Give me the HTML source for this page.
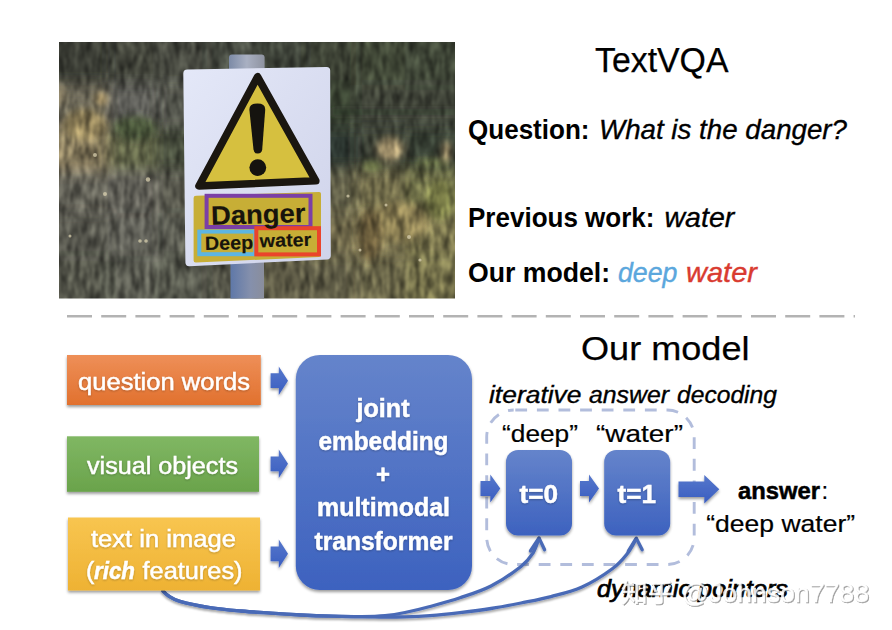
<!DOCTYPE html>
<html lang="en">
<head>
<meta charset="utf-8">
<title>TextVQA - Our model</title>
<style>
html,body{margin:0;padding:0;background:#fff;}
body{width:892px;height:630px;overflow:hidden;position:relative;}
svg{display:block;position:absolute;left:0;top:0;}
text{font-family:"Liberation Sans", sans-serif;}
.wm{font-family:"Liberation Sans", "Noto Sans CJK SC", sans-serif;}
</style>
</head>
<body>
<svg width="892" height="630" viewBox="0 0 892 630">
<defs>
<linearGradient id="gBlue" x1="0" y1="0" x2="0" y2="1"><stop offset="0" stop-color="#6584cb"/><stop offset="1" stop-color="#3d62bf"/></linearGradient>
<linearGradient id="gArrow" x1="0" y1="0" x2="0" y2="1"><stop offset="0" stop-color="#5677cb"/><stop offset="1" stop-color="#3a5ec1"/></linearGradient>
<linearGradient id="gOrange" x1="0" y1="0" x2="0" y2="1"><stop offset="0" stop-color="#ee8f58"/><stop offset="1" stop-color="#e1712e"/></linearGradient>
<linearGradient id="gGreen" x1="0" y1="0" x2="0" y2="1"><stop offset="0" stop-color="#80b763"/><stop offset="1" stop-color="#6aa34b"/></linearGradient>
<linearGradient id="gYellow" x1="0" y1="0" x2="0" y2="1"><stop offset="0" stop-color="#f8c550"/><stop offset="1" stop-color="#eeb233"/></linearGradient>
<linearGradient id="gPost" x1="0" y1="0" x2="1" y2="0"><stop offset="0" stop-color="#7c8aa6"/><stop offset="0.5" stop-color="#a9b0c2"/><stop offset="1" stop-color="#8e93a0"/></linearGradient>
<linearGradient id="gPost2" x1="0" y1="0" x2="1" y2="0"><stop offset="0" stop-color="#5f78a8"/><stop offset="0.6" stop-color="#8590ac"/><stop offset="1" stop-color="#8a8e9c"/></linearGradient>
<linearGradient id="gSign" x1="0" y1="0" x2="1" y2="1"><stop offset="0" stop-color="#e4e8f8"/><stop offset="1" stop-color="#cfd3ea"/></linearGradient>
<filter id="sh" x="-20%" y="-20%" width="140%" height="150%"><feGaussianBlur in="SourceAlpha" stdDeviation="1.6"/><feOffset dx="0" dy="2"/><feComponentTransfer><feFuncA type="linear" slope="0.4"/></feComponentTransfer><feMerge><feMergeNode/><feMergeNode in="SourceGraphic"/></feMerge></filter>
<filter id="shl" x="-5%" y="-50%" width="110%" height="200%"><feGaussianBlur in="SourceAlpha" stdDeviation="1.2"/><feOffset dx="0" dy="2"/><feComponentTransfer><feFuncA type="linear" slope="0.35"/></feComponentTransfer><feMerge><feMergeNode/><feMergeNode in="SourceGraphic"/></feMerge></filter>
<filter id="tsh" x="-5%" y="-20%" width="110%" height="150%"><feGaussianBlur in="SourceAlpha" stdDeviation="0.8"/><feOffset dx="0" dy="1"/><feComponentTransfer><feFuncA type="linear" slope="0.25"/></feComponentTransfer><feMerge><feMergeNode/><feMergeNode in="SourceGraphic"/></feMerge></filter>
<filter id="wsh" x="-5%" y="-30%" width="110%" height="170%" color-interpolation-filters="sRGB"><feMorphology in="SourceAlpha" operator="dilate" radius="0.3" result="d"/><feOffset in="d" dx="1.2" dy="1.3" result="o"/><feFlood flood-color="#3a3a3a" flood-opacity="0.55"/><feComposite in2="o" operator="in" result="s"/><feMerge><feMergeNode in="s"/><feMergeNode in="SourceGraphic"/></feMerge></filter>
<filter id="b12" x="-50%" y="-50%" width="200%" height="200%"><feGaussianBlur stdDeviation="12"/></filter>
<filter id="b6" x="-50%" y="-50%" width="200%" height="200%"><feGaussianBlur stdDeviation="6"/></filter>
<filter id="b8" filterUnits="userSpaceOnUse" x="0" y="0" width="520" height="340"><feGaussianBlur stdDeviation="7"/></filter>
<filter id="b4" filterUnits="userSpaceOnUse" x="0" y="0" width="520" height="340"><feGaussianBlur stdDeviation="3.5"/></filter>
<filter id="b1" x="-50%" y="-50%" width="200%" height="200%"><feGaussianBlur stdDeviation="0.7"/></filter>
<filter id="b2" x="-50%" y="-50%" width="200%" height="200%"><feGaussianBlur stdDeviation="1.5"/></filter>
<filter id="tex" filterUnits="userSpaceOnUse" x="39" y="22" width="436" height="297" color-interpolation-filters="sRGB"><feTurbulence type="fractalNoise" baseFrequency="0.2 0.055" numOctaves="3" seed="11" result="n"/><feColorMatrix in="n" type="matrix" values="1 0 0 0 0  1 0 0 0 0  1 0 0 0 0  0 0 0 0 1" result="g"/><feGaussianBlur in="g" stdDeviation="0.8" result="gb"/><feComposite in="SourceGraphic" in2="gb" operator="arithmetic" k1="1.4" k2="0.28" k3="0" k4="0"/></filter>
<clipPath id="cpPhoto"><rect x="59" y="42" width="396" height="256.5"/></clipPath>
</defs>

<g clip-path="url(#cpPhoto)">
<g filter="url(#tex)">
<rect x="39" y="22" width="436" height="297" fill="#50524a"/>
<g filter="url(#b8)">
<rect x="39" y="22" width="70" height="64" fill="#3b3e35"/>
<rect x="108" y="22" width="51" height="64" fill="#44463e"/>
<rect x="158" y="22" width="50" height="64" fill="#494b43"/>
<rect x="207" y="22" width="51" height="64" fill="#444840"/>
<rect x="257" y="22" width="50" height="64" fill="#3f443a"/>
<rect x="306" y="22" width="51" height="64" fill="#3c4335"/>
<rect x="356" y="22" width="50" height="64" fill="#424839"/>
<rect x="405" y="22" width="71" height="64" fill="#3f4638"/>
<rect x="39" y="85" width="70" height="44" fill="#6c6858"/>
<rect x="108" y="85" width="51" height="44" fill="#5d5d58"/>
<rect x="158" y="85" width="50" height="44" fill="#57584f"/>
<rect x="207" y="85" width="51" height="44" fill="#4a4d44"/>
<rect x="257" y="85" width="50" height="44" fill="#424839"/>
<rect x="306" y="85" width="51" height="44" fill="#3d4636"/>
<rect x="356" y="85" width="50" height="44" fill="#444a3c"/>
<rect x="405" y="85" width="71" height="44" fill="#454a3d"/>
<rect x="39" y="128" width="70" height="43" fill="#8a7e5e"/>
<rect x="108" y="128" width="51" height="43" fill="#62664a"/>
<rect x="158" y="128" width="50" height="43" fill="#464e3c"/>
<rect x="207" y="128" width="51" height="43" fill="#404638"/>
<rect x="257" y="128" width="50" height="43" fill="#343c33"/>
<rect x="306" y="128" width="51" height="43" fill="#2f3831"/>
<rect x="356" y="128" width="50" height="43" fill="#3a3f35"/>
<rect x="405" y="128" width="71" height="43" fill="#363c33"/>
<rect x="39" y="170" width="70" height="44" fill="#646258"/>
<rect x="108" y="170" width="51" height="44" fill="#63625a"/>
<rect x="158" y="170" width="50" height="44" fill="#5a5a50"/>
<rect x="207" y="170" width="51" height="44" fill="#58584a"/>
<rect x="257" y="170" width="50" height="44" fill="#5c5b46"/>
<rect x="306" y="170" width="51" height="44" fill="#62604a"/>
<rect x="356" y="170" width="50" height="44" fill="#726d4b"/>
<rect x="405" y="170" width="71" height="44" fill="#70714a"/>
<rect x="39" y="213" width="70" height="44" fill="#585950"/>
<rect x="108" y="213" width="51" height="44" fill="#616158"/>
<rect x="158" y="213" width="50" height="44" fill="#5c5d52"/>
<rect x="207" y="213" width="51" height="44" fill="#5a5a4a"/>
<rect x="257" y="213" width="50" height="44" fill="#66624a"/>
<rect x="306" y="213" width="51" height="44" fill="#6f694b"/>
<rect x="356" y="213" width="50" height="44" fill="#7b7551"/>
<rect x="405" y="213" width="71" height="44" fill="#7d784f"/>
<rect x="39" y="256" width="70" height="64" fill="#54574c"/>
<rect x="108" y="256" width="51" height="64" fill="#5b5d52"/>
<rect x="158" y="256" width="50" height="64" fill="#585a50"/>
<rect x="207" y="256" width="51" height="64" fill="#565648"/>
<rect x="257" y="256" width="50" height="64" fill="#5e5c46"/>
<rect x="306" y="256" width="51" height="64" fill="#646148"/>
<rect x="356" y="256" width="50" height="64" fill="#6d694c"/>
<rect x="405" y="256" width="71" height="64" fill="#76724c"/>
</g>
<g filter="url(#b4)">
<rect x="330" y="110.5" width="130" height="3" fill="#262d27"/>
<ellipse cx="390" cy="149" rx="14" ry="12" fill="#a3926c"/>
<ellipse cx="446.5" cy="152" rx="5" ry="11" fill="#a3916a"/>
<ellipse cx="372" cy="166" rx="10" ry="5" fill="#6f7a4a"/>
<ellipse cx="432" cy="163" rx="16" ry="4" fill="#70794b"/>
<ellipse cx="101" cy="99" rx="6" ry="7" fill="#b39c6c"/>
<ellipse cx="61" cy="95" rx="4" ry="10" fill="#a89a78"/>
<ellipse cx="85" cy="125" rx="22" ry="16" fill="#8f8059"/>
<ellipse cx="135" cy="128" rx="22" ry="12" fill="#4d5a3d"/>
<ellipse cx="400" cy="222" rx="30" ry="20" fill="#85794f"/>
<ellipse cx="440" cy="200" rx="14" ry="20" fill="#7d8048"/>
<ellipse cx="370" cy="235" rx="12" ry="26" fill="#6d5f3e"/>
</g>
</g>
<circle cx="148" cy="179.5" r="2.2" fill="#d8cfae" opacity="0.75" filter="url(#b1)"/>
<circle cx="105" cy="194" r="2" fill="#d8cfae" opacity="0.75" filter="url(#b1)"/>
<circle cx="140" cy="241" r="1.8" fill="#d8cfae" opacity="0.75" filter="url(#b1)"/>
<circle cx="146" cy="241" r="1.8" fill="#d8cfae" opacity="0.75" filter="url(#b1)"/>
<circle cx="95" cy="155" r="2" fill="#d8cfae" opacity="0.75" filter="url(#b1)"/>
<circle cx="348" cy="196" r="1.6" fill="#d8cfae" opacity="0.75" filter="url(#b1)"/>
<circle cx="409" cy="237" r="2" fill="#d8cfae" opacity="0.75" filter="url(#b1)"/>
<circle cx="386" cy="205" r="1.5" fill="#d8cfae" opacity="0.75" filter="url(#b1)"/>
<circle cx="420" cy="260" r="1.6" fill="#d8cfae" opacity="0.75" filter="url(#b1)"/>
<circle cx="360" cy="250" r="1.5" fill="#d8cfae" opacity="0.75" filter="url(#b1)"/>
<circle cx="70" cy="236" r="1.5" fill="#d8cfae" opacity="0.75" filter="url(#b1)"/>
<path d="M229 70 V57.5 Q229 54.5 232 54.5 H261.5 Q264.6 54.5 264.6 57.5 V70 Z" fill="url(#gPost)"/>
<path d="M230.5 258 H264 V300 H230.5 Z" fill="url(#gPost2)"/>
<path d="M187.3 69.5 L326.5 67 Q330.1 66.9 330.2 70.5 L330.8 255.5 Q330.8 259.2 327 259.5 L189.5 266.2 Q185.5 266.4 185.4 262.5 L183.3 73.5 Q183.3 69.6 187.3 69.5 Z" fill="url(#gSign)"/>
<path d="M257.6 76.8 L199 186 L315.8 180.8 Z" fill="#d6c03f" stroke="#1a1610" stroke-width="7.6" stroke-linejoin="round"/>
<path d="M249.4 110 Q249 103.5 257.5 103.5 Q265.6 103.5 265.2 110 L262.2 149.5 Q261.7 153.6 257.8 153.6 Q254 153.6 253.5 149.5 Z" fill="#15130f"/>
<circle cx="257.8" cy="167.6" r="8.4" fill="#15130f"/>
<path d="M196 195.8 L319 191.9 Q321 191.8 321 193.8 L321 254.8 Q321 256.8 319 256.9 L196 262.6 Q193.6 262.7 193.6 260.6 L193.6 198 Q193.6 195.9 196 195.8 Z" fill="#c7ae36"/>
<rect x="199.3" y="231.6" width="56" height="22.6" fill="none" stroke="#5db5e2" stroke-width="4"/>
<rect x="206.6" y="195.8" width="103.9" height="31.2" fill="none" stroke="#7b3fa6" stroke-width="4"/>
<rect x="256.3" y="228.2" width="62.7" height="26.2" fill="none" stroke="#ea442b" stroke-width="4"/>
<g transform="rotate(-1.6 258 224)" stroke="#17140c" stroke-width="0.15">
<text x="211.3" y="223.4" font-size="26.6" font-weight="bold" font-style="normal" fill="#17140c" textLength="94.5" lengthAdjust="spacingAndGlyphs">Danger</text>
</g>
<g transform="rotate(-1.2 230 249)" stroke="#17140c" stroke-width="0.15">
<text x="205" y="249.5" font-size="19.2" font-weight="bold" font-style="normal" fill="#17140c" textLength="48.3" lengthAdjust="spacingAndGlyphs">Deep</text>
</g>
<g transform="rotate(-1.5 285 247)" stroke="#17140c" stroke-width="0.15">
<text x="259.8" y="246.6" font-size="18.6" font-weight="bold" font-style="normal" fill="#17140c" textLength="51.6" lengthAdjust="spacingAndGlyphs">water</text>
</g>
</g>
<text x="595" y="72" font-size="34.2" font-weight="normal" font-style="normal" fill="#000" textLength="133.5" lengthAdjust="spacingAndGlyphs" stroke="#000" stroke-width="0.25">TextVQA</text>
<text><tspan x="468" y="138.8" font-size="28" font-weight="bold" font-style="normal" textLength="121.5" lengthAdjust="spacingAndGlyphs">Question:</tspan> <tspan x="599" y="138.8" font-size="28" font-weight="normal" font-style="italic" textLength="248" lengthAdjust="spacingAndGlyphs" stroke="#000" stroke-width="0.35">What is the danger?</tspan></text>
<text><tspan x="468" y="227" font-size="28" font-weight="bold" font-style="normal" textLength="186.5" lengthAdjust="spacingAndGlyphs">Previous work:</tspan> <tspan x="664.5" y="227" font-size="28" font-weight="normal" font-style="italic" textLength="69.8" lengthAdjust="spacingAndGlyphs" stroke="#000" stroke-width="0.35">water</tspan></text>
<text><tspan x="468" y="282" font-size="28" font-weight="bold" font-style="normal" textLength="142" lengthAdjust="spacingAndGlyphs">Our model:</tspan> <tspan x="618" y="282" font-size="28" font-weight="normal" font-style="italic" fill="#5ba7dd" textLength="59.5" lengthAdjust="spacingAndGlyphs" stroke="#5ba7dd" stroke-width="0.4">deep</tspan> <tspan x="686" y="282" font-size="28" font-weight="normal" font-style="italic" fill="#d93b30" textLength="71" lengthAdjust="spacingAndGlyphs" stroke="#d93b30" stroke-width="0.4">water</tspan></text>
<line x1="67" y1="316.3" x2="855" y2="316.3" stroke="#b3b3b3" stroke-width="2.5" stroke-dasharray="25 9.2"/>
<text x="581" y="360" font-size="33.4" font-weight="normal" font-style="normal" fill="#000" textLength="168.5" lengthAdjust="spacingAndGlyphs" stroke="#000" stroke-width="0.25">Our model</text>
<text stroke="#000" stroke-width="0.35"><tspan x="489" y="402.5" font-size="24.8" font-weight="normal" font-style="italic" textLength="92.5" lengthAdjust="spacingAndGlyphs">iterative</tspan> <tspan x="589" y="402.5" font-size="24.8" font-weight="normal" font-style="italic" textLength="80" lengthAdjust="spacingAndGlyphs">answer</tspan> <tspan x="677" y="402.5" font-size="24.8" font-weight="normal" font-style="italic" textLength="100" lengthAdjust="spacingAndGlyphs">decoding</tspan></text>
<rect x="486.7" y="410" width="207.5" height="154.5" rx="27" ry="27" fill="none" stroke="#b2bddc" stroke-width="2.9" stroke-dasharray="11.8 9.8" stroke-dashoffset="-1.6"/>
<g fill="none" stroke="#4a6ab6" stroke-width="3.3" stroke-linecap="round" stroke-linejoin="round" filter="url(#shl)">
<path d="M163 591 C163.8 591.8 165.2 593.8 168 595.5 C170.8 597.2 173.0 599.3 180 601.3 C187.0 603.3 199.8 606.0 210 607.6 C220.2 609.2 230.8 610.1 241 611 C251.2 611.9 261.0 612.5 271 613.2 C281.0 613.9 290.8 614.5 301 615 C311.2 615.5 321.8 615.9 332 616.2 C342.2 616.5 353.2 616.7 362 616.6 C370.8 616.5 377.8 616.3 385 615.6 C392.2 614.9 397.5 614.0 405 612.5 C412.5 611.0 420.8 609.0 430 606.5 C439.2 604.0 449.8 601.2 460 597.8 C470.2 594.4 480.8 591.2 491 586 C501.2 580.8 514.0 572.0 521 566.5 C528.0 561.0 530.0 557.7 533 553 C536.0 548.3 538.0 540.9 539 538.5"/>
<path d="M163 591 C163.8 591.8 165.2 593.8 168 595.5 C170.8 597.2 173.0 599.3 180 601.3 C187.0 603.3 199.8 606.0 210 607.6 C220.2 609.2 230.8 610.1 241 611 C251.2 611.9 261.0 612.5 271 613.2 C281.0 613.9 290.8 614.5 301 615 C311.2 615.5 321.8 615.9 332 616.2 C342.2 616.5 353.2 616.5 362 616.6 C370.8 616.7 377.8 617.0 385 617 C392.2 617.0 397.5 617.0 405 616.8 C412.5 616.6 420.8 616.3 430 615.6 C439.2 614.9 449.8 613.8 460 612.6 C470.2 611.4 480.8 610.1 491 608.5 C501.2 606.9 511.0 605.0 521 603 C531.0 601.0 540.8 599.3 551 596.6 C561.2 593.9 571.8 591.6 582 587 C592.2 582.4 604.5 574.5 612 569 C619.5 563.5 623.0 559.0 627 554 C631.0 549.0 634.7 541.3 636.2 538.8"/>
<path d="M530.4 551 L539 538 L544.6 549.8"/>
<path d="M628.3 551 L636.3 538.2 L642.2 549.8"/>
</g>
<rect x="67" y="355" width="193.8" height="50" fill="url(#gOrange)" filter="url(#sh)"/>
<rect x="67" y="436.3" width="192" height="55.5" fill="url(#gGreen)" filter="url(#sh)"/>
<rect x="68" y="517.5" width="192" height="73" fill="url(#gYellow)" filter="url(#sh)"/>
<rect x="295.8" y="355" width="176.2" height="235" rx="24" ry="24" fill="url(#gBlue)" filter="url(#sh)"/>
<rect x="506" y="450" width="66" height="85.5" rx="12" ry="12" fill="url(#gBlue)" filter="url(#sh)"/>
<rect x="604.2" y="450" width="66" height="85.5" rx="12" ry="12" fill="url(#gBlue)" filter="url(#sh)"/>
<path d="M270.6 373.3 H278.8 V366.45 L288 380.7 L278.8 394.95 V388.09999999999997 H270.6 Z" fill="url(#gArrow)" filter="url(#sh)"/>
<path d="M270.6 456.40000000000003 H278.8 V449.55 L288 463.8 L278.8 478.05 V471.2 H270.6 Z" fill="url(#gArrow)" filter="url(#sh)"/>
<path d="M270.6 546.4 H278.8 V539.55 L288 553.8 L278.8 568.05 V561.1999999999999 H270.6 Z" fill="url(#gArrow)" filter="url(#sh)"/>
<path d="M480.5 481.1 H490.3 V474.5 L500.3 488.5 L490.3 502.5 V495.9 H480.5 Z" fill="url(#gArrow)" filter="url(#sh)"/>
<path d="M580 481.1 H589 V474.5 L599 488.5 L589 502.5 V495.9 H580 Z" fill="url(#gArrow)" filter="url(#sh)"/>
<path d="M678.5 481.55 H704.3 V475.05 L719.3 489.3 L704.3 503.55 V497.05 H678.5 Z" fill="url(#gArrow)" filter="url(#sh)"/>
<g fill="#fff" stroke="#fff" stroke-width="0.45" filter="url(#tsh)">
<text x="78" y="390" font-size="24.8" font-weight="normal" font-style="normal" fill="#fff" textLength="172" lengthAdjust="spacingAndGlyphs">question words</text>
<text x="87" y="474" font-size="24.8" font-weight="normal" font-style="normal" fill="#fff" textLength="151" lengthAdjust="spacingAndGlyphs">visual objects</text>
<text fill="#fff"><tspan x="91" y="546.8" font-size="24.8" font-weight="normal" font-style="normal" textLength="145" lengthAdjust="spacingAndGlyphs">text in image</tspan> <tspan x="86" y="579.3" font-size="24.8" font-weight="normal" font-style="normal">(</tspan><tspan x="94" y="579.3" font-size="24.8" font-weight="bold" font-style="italic" textLength="41" lengthAdjust="spacingAndGlyphs">rich</tspan> <tspan x="142.5" y="579.3" font-size="24.8" font-weight="normal" font-style="normal" textLength="100" lengthAdjust="spacingAndGlyphs">features)</tspan></text>
<text fill="#fff"><tspan x="356.5" y="417" font-size="25.2" font-weight="bold" font-style="normal" textLength="53" lengthAdjust="spacingAndGlyphs">joint</tspan> <tspan x="318.5" y="449.5" font-size="25.2" font-weight="bold" font-style="normal" textLength="130" lengthAdjust="spacingAndGlyphs">embedding</tspan> <tspan x="376" y="483" font-size="25.2" font-weight="bold" font-style="normal" textLength="14" lengthAdjust="spacingAndGlyphs">+</tspan> <tspan x="317" y="516" font-size="25.2" font-weight="bold" font-style="normal" textLength="133" lengthAdjust="spacingAndGlyphs">multimodal</tspan> <tspan x="314.5" y="549.5" font-size="25.2" font-weight="bold" font-style="normal" textLength="138" lengthAdjust="spacingAndGlyphs">transformer</tspan></text>
<text x="519.5" y="503" font-size="25.5" font-weight="bold" font-style="normal" fill="#fff" textLength="38.5" lengthAdjust="spacingAndGlyphs">t=0</text>
<text x="617.5" y="503" font-size="25.5" font-weight="bold" font-style="normal" fill="#fff" textLength="38.5" lengthAdjust="spacingAndGlyphs">t=1</text>
</g>
<g stroke="#000" stroke-width="0.2">
<text x="502" y="442.4" font-size="24.6" font-weight="normal" font-style="normal" fill="#000" textLength="76" lengthAdjust="spacingAndGlyphs">“deep”</text>
<text x="596" y="442.4" font-size="24.6" font-weight="normal" font-style="normal" fill="#000" textLength="87" lengthAdjust="spacingAndGlyphs">“water”</text>
<text><tspan x="738" y="499.3" font-size="24" font-weight="bold" font-style="normal" textLength="82" lengthAdjust="spacingAndGlyphs" stroke-width="0.5">answer</tspan><tspan x="821.5" y="499.3" font-size="24" font-weight="normal" font-style="normal">:</tspan> <tspan x="706.2" y="531.8" font-size="24" font-weight="normal" font-style="normal" textLength="149" lengthAdjust="spacingAndGlyphs">“deep water”</tspan></text>
<text x="597" y="597.3" font-size="23.8" font-weight="normal" font-style="italic" fill="#000" textLength="191" lengthAdjust="spacingAndGlyphs" stroke-width="0.7">dynamic pointers</text>
</g>
<g class="wm">
<text class="wm" x="621" y="602" font-size="25" fill="#ffffff" stroke="#ffffff" stroke-width="0.4" opacity="0.9" textLength="248" lengthAdjust="spacingAndGlyphs" filter="url(#wsh)">知乎 @Johnson7788</text>
</g>
</svg>
</body>
</html>
